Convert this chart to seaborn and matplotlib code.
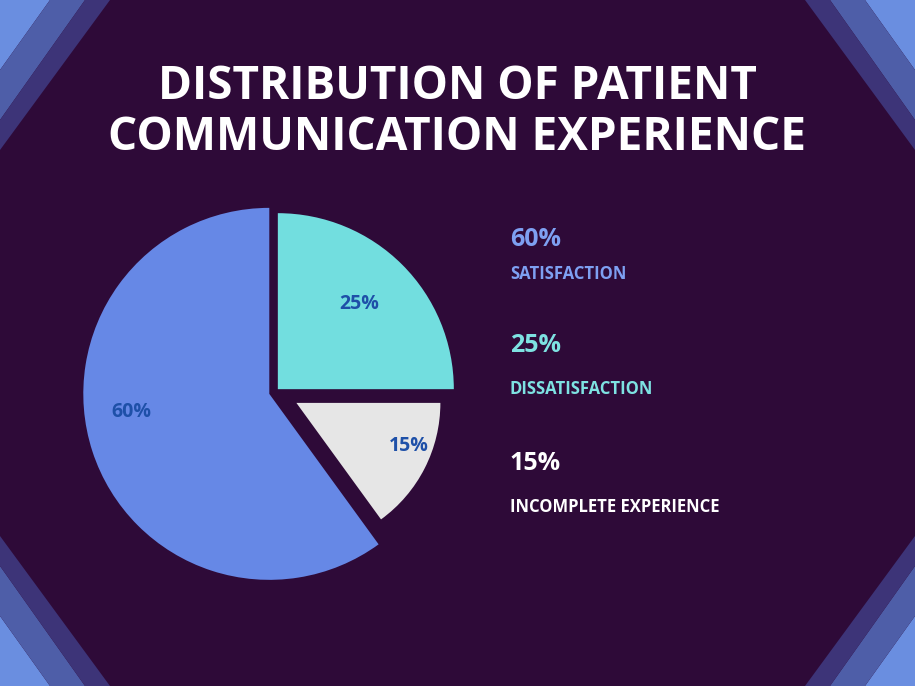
import matplotlib
matplotlib.use("Agg")
import matplotlib.pyplot as plt
import seaborn as sns
from matplotlib.patches import Polygon

sns.set_theme(style="white")
plt.rcParams['font.family'] = ['Open Sans', 'DejaVu Sans']

categories = ["SATISFACTION", "DISSATISFACTION", "INCOMPLETE EXPERIENCE"]
values = [60, 25, 15]
labels = ["60%", "25%", "15%"]
colors = ["#6688E6", "#72DEDF", "#E6E6E6"]
legend_colors = ["#7EA0F2", "#7EE2E2", "#FFFFFF"]
bg = "#2E0A38"

W, H = 915, 686
fig = plt.figure(figsize=(9.15, 6.86), dpi=100)
fig.patch.set_facecolor(bg)

def P(pts, c, a=1.0):
    fig.patches.append(Polygon([(x / W, 1 - y / H) for x, y in pts], closed=True,
                               transform=fig.transFigure, facecolor=c, edgecolor='none', alpha=a, zorder=0))

for flipx in (False, True):
    for flipy in (False, True):
        def t(pts):
            return [((W - x) if flipx else x, (H - y) if flipy else y) for x, y in pts]
        P(t([(0, 0), (50, 0), (0, 70)]), "#6A8EE0")
        P(t([(50, 0), (85, 0), (0, 120), (0, 70)]), "#4E5EA8")
        P(t([(85, 0), (110, 0), (0, 150), (0, 120)]), "#3D3478")

ax = fig.add_axes([275 / W - 200 / W, 1 - 392 / H - 200 / H, 400 / W, 400 / H])
ax.set_facecolor('none')
order_vals = [values[0], values[2], values[1]]
order_cols = [colors[0], colors[2], colors[1]]
order_labs = [labels[0], labels[2], labels[1]]
wedges, texts = ax.pie(order_vals, colors=order_cols, startangle=90, counterclock=True,
                       explode=[0.03, 0.12, 0.02], radius=0.93,
                       labels=order_labs, labeldistance=0.6,
                       wedgeprops=dict(linewidth=0))
wedges[1].set_radius(0.72)
wedges[2].set_radius(0.88)
texts[0].set_position((-0.62, -0.1))
texts[1].set_position((0.57, -0.27))
texts[2].set_position((0.32, 0.44))
for tx in texts:
    tx.set_color("#1E50A8")
    tx.set_fontsize(14)
    tx.set_fontweight('bold')
ax.set_aspect('equal')
ax.set_xlim(-1, 1); ax.set_ylim(-1, 1)
ax.axis('off')

fig.text(0.5, 1 - 112 / H, "DISTRIBUTION OF PATIENT\nCOMMUNICATION EXPERIENCE",
         ha='center', va='center', color='white', fontsize=33, fontweight='bold', linespacing=1.1)

ys = [(240, 274), (345, 389), (463, 507)]
for (y1, y2), lab, cat, c in zip(ys, labels, categories, legend_colors):
    fig.text(510 / W, 1 - y1 / H, lab, color=c, fontsize=18, fontweight='bold', va='center', ha='left')
    fig.text(510 / W, 1 - y2 / H, cat, color=c, fontsize=12, fontweight='bold', va='center', ha='left')

fig.savefig("out.png", dpi=100, facecolor=bg)
